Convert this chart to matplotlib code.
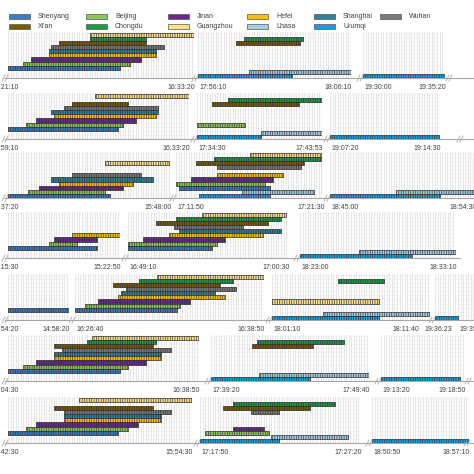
import numpy as np
import matplotlib
matplotlib.use("Agg")
import matplotlib.pyplot as plt
from matplotlib.patches import Rectangle
from matplotlib.lines import Line2D

# ---- data ---------------------------------------------------------------
cities = ["Shenyang", "Xi'an", "Beijing", "Chongdu", "Jinan", "Guangzhou",
          "Hefei", "Lhasa", "Shanghai", "Urumqi", "Wuhan"]

# tick labels (left, right) and span in seconds for every panel of each row
panel_ticks = [
    [("16:21:10", "16:33:20", 730), ("17:56:10", "18:06:10", 600),
     ("19:30:00", "19:35:20", 320)],
    [("15:59:10", "16:33:20", 710), ("17:34:30", "17:43:53", 490),
     ("19:07:20", "19:14:30", 430)],
    [("15:37:20", "15:48:00", 640), ("17:11:50", "17:21:30", 580),
     ("18:45:00", "18:54:30", 570)],
    [("15:15:30", "15:22:50", 440), ("16:49:10", "17:00:30", 630),
     ("18:23:00", "18:33:10", 610)],
    [("14:54:20", "14:58:20", 240), ("16:26:40", "16:38:50", 740),
     ("18:01:10", "18:11:40", 620), ("19:36:23", "19:39:40", 200)],
    [("16:04:30", "16:38:50", 750), ("17:39:20", "17:49:40", 620),
     ("19:13:20", "19:18:50", 330)],
    [("15:42:30", "15:54:30", 720), ("17:17:50", "17:27:20", 630),
     ("18:50:50", "18:57:10", 380)],
]

# bars: (city, lane, start s, end s) per panel
bars = [
    [
        [("Guangzhou", 10, 320, 730), ("Chongdu", 9, 320, 540),
         ("Xi'an", 8, 200, 540), ("Wuhan", 7, 170, 610),
         ("Shanghai", 6, 160, 580), ("Hefei", 5, 160, 580),
         ("Jinan", 4, 90, 520), ("Beijing", 3, 60, 480),
         ("Shenyang", 2, 0, 440)],
        [("Chongdu", 9, 180, 410), ("Xi'an", 8, 150, 400),
         ("Lhasa", 1, 200, 600), ("Urumqi", 0, 0, 370)],
        [("Urumqi", 0, 0, 320)],
    ],
    [
        [("Guangzhou", 10, 340, 710), ("Xi'an", 8, 250, 470),
         ("Wuhan", 7, 220, 590), ("Shanghai", 6, 170, 590),
         ("Hefei", 5, 180, 580), ("Jinan", 4, 110, 500),
         ("Beijing", 3, 70, 450), ("Shenyang", 2, 0, 430)],
        [("Chongdu", 9, 120, 490), ("Xi'an", 8, 60, 400),
         ("Beijing", 3, 0, 190), ("Lhasa", 1, 250, 490),
         ("Urumqi", 0, 0, 250)],
        [("Urumqi", 0, 0, 430)],
    ],
    [
        [("Guangzhou", 8, 380, 630), ("Wuhan", 5, 250, 520),
         ("Shanghai", 4, 170, 570), ("Hefei", 3, 200, 490),
         ("Jinan", 2, 120, 450), ("Beijing", 1, 80, 380),
         ("Shenyang", 0, 0, 400)],
        [("Guangzhou", 10, 290, 570), ("Chongdu", 9, 150, 570),
         ("Xi'an", 8, 80, 500), ("Wuhan", 7, 160, 490),
         ("Hefei", 5, 160, 420), ("Jinan", 4, 60, 380),
         ("Beijing", 3, 0, 350), ("Shenyang", 2, 10, 370),
         ("Lhasa", 1, 260, 540), ("Urumqi", 0, 90, 370)],
        [("Urumqi", 0, 0, 430), ("Lhasa", 1, 260, 570)],
    ],
    [
        [("Hefei", 5, 250, 440), ("Jinan", 4, 180, 350),
         ("Beijing", 3, 160, 270), ("Shenyang", 2, 0, 350)],
        [("Guangzhou", 10, 290, 620), ("Chongdu", 9, 190, 600),
         ("Xi'an", 8, 110, 550), ("Wuhan", 7, 180, 450),
         ("Shanghai", 6, 200, 600), ("Hefei", 5, 160, 530),
         ("Jinan", 4, 60, 380), ("Beijing", 3, 0, 350),
         ("Shenyang", 2, 0, 330)],
        [("Urumqi", 0, 0, 440), ("Lhasa", 1, 230, 610)],
    ],
    [
        [("Shenyang", 2, 0, 240)],
        [("Guangzhou", 10, 320, 740), ("Chongdu", 9, 250, 620),
         ("Xi'an", 8, 150, 570), ("Wuhan", 7, 200, 630),
         ("Shanghai", 6, 180, 550), ("Hefei", 5, 170, 590),
         ("Jinan", 4, 90, 450), ("Beijing", 3, 40, 410),
         ("Shenyang", 2, 0, 400)],
        [("Chongdu", 9, 260, 440), ("Guangzhou", 4, 0, 420),
         ("Lhasa", 1, 200, 620), ("Urumqi", 0, 0, 420)],
        [("Urumqi", 0, 0, 90)],
    ],
    [
        [("Guangzhou", 10, 330, 750), ("Chongdu", 9, 310, 580),
         ("Xi'an", 8, 180, 570), ("Wuhan", 7, 210, 640),
         ("Shanghai", 6, 180, 600), ("Hefei", 5, 180, 600),
         ("Jinan", 4, 110, 540), ("Beijing", 3, 60, 470),
         ("Shenyang", 2, 0, 440)],
        [("Chongdu", 9, 180, 520), ("Xi'an", 8, 160, 400),
         ("Lhasa", 1, 190, 620), ("Urumqi", 0, 0, 390)],
        [("Urumqi", 0, 0, 310)],
    ],
    [
        [("Guangzhou", 10, 280, 720), ("Xi'an", 8, 180, 570),
         ("Wuhan", 7, 220, 640), ("Shanghai", 6, 220, 600),
         ("Hefei", 5, 220, 600), ("Jinan", 4, 110, 510),
         ("Beijing", 3, 70, 470), ("Shenyang", 2, 0, 430)],
        [("Chongdu", 9, 130, 530), ("Xi'an", 8, 90, 430),
         ("Wuhan", 7, 200, 310), ("Jinan", 3, 130, 250),
         ("Beijing", 2, 20, 270), ("Lhasa", 1, 280, 580),
         ("Urumqi", 0, 0, 310)],
        [("Urumqi", 0, 0, 380)],
    ],
]

# ---- style / layout -----------------------------------------------------
colors = {
    "Shenyang": "#3a7cbf", "Xi'an": "#7a5a06", "Beijing": "#8fc65a",
    "Chongdu": "#1c9a47", "Jinan": "#67298e", "Guangzhou": "#ffe08a",
    "Hefei": "#ffbf00", "Lhasa": "#a6cde2", "Shanghai": "#2f8099",
    "Urumqi": "#16a0de", "Wuhan": "#7a7a7a",
}

W = 474
px_per_s = 0.255
panel_h = 46
row_axis_y = [78, 139, 198, 258, 320, 381, 443]
panel_left = [[8, 198, 363], [8, 197, 330], [8, 176, 330], [8, 128, 300],
              [8, 75, 272, 435], [8, 211, 381], [8, 200, 372]]
row_tail = [449, 460, None, None, None, 468, 467]
row_end = [474, 474, 474, 460, 474, 474, 474]
# small nudges of crowded tick labels: (row, panel) -> px
left_shift = {(4, 3): -12}
right_shift = {(4, 2): -12}

legend_x = [9, 86, 168, 247, 314, 380]
legend_y = [16, 26]

txt_color = "#404040"
axis_color = "#a6a6a6"

plt.rcParams["font.family"] = ["Liberation Sans", "DejaVu Sans"]
plt.rcParams["hatch.linewidth"] = 0.45


def fx(x):
    return x / W


def fy(y):
    return 1 - y / W


def brk(fig, x, y):
    # small "//" axis break mark
    for dx in (-1.5, 1.5):
        fig.lines.append(Line2D([fx(x + dx - 1.5), fx(x + dx + 1.5)],
                                [fy(y + 3), fy(y - 3)],
                                transform=fig.transFigure,
                                color=axis_color, lw=0.6))


fig = plt.figure(figsize=(4.74, 4.74), dpi=100)

for r, row in enumerate(panel_ticks):
    base = row_axis_y[r]
    # axis line for the whole row
    fig.lines.append(Line2D([fx(5), fx(row_end[r])], [fy(base), fy(base)],
                            transform=fig.transFigure,
                            color=axis_color, lw=0.8))
    for p, (lt, rt, span) in enumerate(row):
        left = panel_left[r][p]
        w = span * px_per_s
        ax = fig.add_axes([fx(left), fy(base), w / W, panel_h / W])
        ax.set_axisbelow(True)
        for city, lane, s, e in bars[r][p]:
            ax.barh(lane, e - s, left=s, height=1.0,
                    color=colors[city], edgecolor="#2e2e2e",
                    linewidth=0.5, hatch="|||||||")
        ax.set_xlim(0, span)
        ax.set_ylim(-0.5, 10.7)
        ax.set_xticks(np.arange(0, span + 1, 10))
        ax.set_yticks(np.arange(-0.5, 11, 1))
        ax.grid(True, axis="x", color="#d2d2d2", lw=0.4)
        ax.grid(True, axis="y", color="#ededed", lw=0.4)
        ax.tick_params(length=0, labelbottom=False, labelleft=False)
        for sp in ax.spines.values():
            sp.set_visible(False)

        brk(fig, left - 3, base)
        if p == 0:
            fig.text(fx(5), fy(base + 9.5), lt, ha="center", va="center",
                     fontsize=5, color=txt_color)
        else:
            fig.text(fx(left + 1 + left_shift.get((r, p), 0)),
                     fy(base + 9.5), lt, ha="left", va="center",
                     fontsize=5, color=txt_color)
        fig.text(fx(left + w + 1 + right_shift.get((r, p), 0)),
                 fy(base + 9.5), rt, ha="right", va="center",
                 fontsize=5, color=txt_color)
    if row_tail[r] is not None:
        brk(fig, row_tail[r], base)

# legend drawn by hand (two rows, six columns)
for i, city in enumerate(cities):
    x = legend_x[i // 2]
    y = legend_y[i % 2]
    fig.patches.append(Rectangle((fx(x), fy(y + 2.5)), 21 / W, 5 / W,
                                 transform=fig.transFigure,
                                 facecolor=colors[city], edgecolor="#555555",
                                 lw=0.5))
    fig.text(fx(x + 29), fy(y), city, ha="left", va="center",
             fontsize=5, color=txt_color)

fig.savefig("out.png", dpi=100)
